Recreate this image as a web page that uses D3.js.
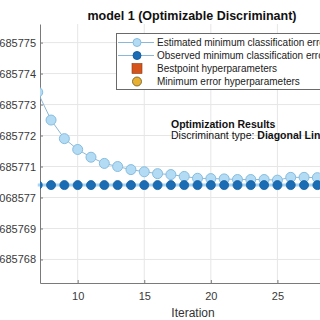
<!DOCTYPE html>
<html>
<head>
<meta charset="utf-8">
<script src="https://cdn.jsdelivr.net/npm/d3@7"></script>
<style>
  body { margin: 0; background: #fff; }
  svg { display: block; font-family: "Liberation Sans", Arial, sans-serif; }
</style>
</head>
<body>
<div id="chart"></div>
<script>
// data
const iterations = [7, 8, 9, 10, 11, 12, 13, 14, 15, 16, 17, 18, 19, 20, 21, 22, 23, 24, 25, 26, 27, 28, 29, 30];
const estimated = [0.06857734, 0.06857725, 0.06857719, 0.068577155, 0.06857713, 0.06857711, 0.0685771, 0.06857709,
  0.068577083, 0.068577077, 0.068577074, 0.068577068, 0.068577062, 0.068577061, 0.06857706, 0.068577058,
  0.068577058, 0.068577058, 0.068577056, 0.068577065, 0.068577065, 0.068577064, 0.068577064, 0.068577064];
const observed = iterations.map(() => 0.06857704);
const yTicks = [0.0685768, 0.0685769, 0.068577, 0.0685771, 0.0685772, 0.0685773, 0.0685774, 0.0685775];
const xTicks = [10, 15, 20, 25, 30];
const legendLabels = ["Estimated minimum classification error", "Observed minimum classification error",
  "Bestpoint hyperparameters", "Minimum error hyperparameters"];

const W = 320, H = 320;
const pL = 40, pT = 24, pB = 283, pR = 344;

const svg = d3.select("#chart").append("svg")
  .attr("width", W).attr("height", H);

const x = d3.scaleLinear().domain([7.17, 30]).range([pL, pR]);
const y = d3.scaleLinear().domain([0.068576724, 0.06857756]).range([pB, pT]);

// grid
const grid = svg.append("g").attr("stroke", "#e6e6e6").attr("stroke-width", 1);
grid.selectAll("line.v").data(xTicks).join("line").attr("class", "v")
  .attr("x1", d => x(d)).attr("x2", d => x(d)).attr("y1", pT).attr("y2", pB);
grid.selectAll("line.h").data(yTicks).join("line").attr("class", "h")
  .attr("x1", pL).attr("x2", pR).attr("y1", d => y(d)).attr("y2", d => y(d));

// axes
const xAxis = svg.append("g").attr("transform", `translate(0,${pB})`)
  .call(d3.axisBottom(x).tickValues(xTicks).tickSizeInner(-3).tickSizeOuter(0).tickPadding(9));
const yAxis = svg.append("g").attr("transform", `translate(${pL},0)`)
  .call(d3.axisLeft(y).tickValues(yTicks).tickSizeInner(-3).tickSizeOuter(0).tickPadding(4)
    .tickFormat(d => String(+d.toFixed(7))));
[xAxis, yAxis].forEach(a => {
  a.select(".domain").attr("stroke", "#7a7a7a");
  a.selectAll(".tick line").attr("stroke", "#7a7a7a");
  a.selectAll("text").attr("fill", "#3a3a3a").attr("font-size", 11).attr("font-family", "Liberation Sans, Arial, sans-serif");
});

// observed minimum
svg.append("path").datum(iterations)
  .attr("fill", "none").attr("stroke", "#a6d4f2").attr("stroke-width", 3)
  .attr("d", d3.line().x(d => x(d)).y((d, i) => y(observed[i])));

svg.append("clipPath").attr("id", "plotclip")
  .append("rect").attr("x", pL).attr("y", pT).attr("width", pR - pL).attr("height", pB - pT);

// estimated minimum
svg.append("path").datum(iterations)
  .attr("fill", "none").attr("stroke", "#8db7d6").attr("stroke-width", 1)
  .attr("clip-path", "url(#plotclip)")
  .attr("d", d3.line().x(d => x(d)).y((d, i) => y(estimated[i])));

const marks = svg.append("g").attr("clip-path", "url(#plotclip)");
marks.selectAll("circle.est").data(iterations).join("circle")
  .attr("class", "est")
  .attr("cx", d => x(d)).attr("cy", (d, i) => y(estimated[i])).attr("r", 5)
  .attr("fill", "#b3dcf4").attr("stroke", "#86bde0").attr("stroke-width", 1);
marks.selectAll("circle.obs").data(iterations).join("circle")
  .attr("class", "obs")
  .attr("cx", d => x(d)).attr("cy", (d, i) => y(observed[i])).attr("r", 4.5)
  .attr("fill", "#1a6cb5").attr("stroke", "#175f9f").attr("stroke-width", 0.8);

// title
svg.append("text").attr("x", 192).attr("y", 20).attr("text-anchor", "middle")
  .attr("font-size", 12.5).attr("font-weight", "bold").attr("fill", "#111")
  .text("model 1 (Optimizable Discriminant)");

// x label
svg.append("text").attr("x", 193).attr("y", 317).attr("text-anchor", "middle")
  .attr("font-size", 12).attr("fill", "#333").text("Iteration");

// annotation
svg.append("text").attr("x", 171).attr("y", 127.5)
  .attr("font-size", 10.5).attr("font-weight", "bold").attr("fill", "#111")
  .text("Optimization Results");
const ann = svg.append("text").attr("x", 171).attr("y", 138.5)
  .attr("font-size", 10.5).attr("fill", "#111");
ann.append("tspan").text("Discriminant type: ");
ann.append("tspan").attr("font-weight", "bold").text("Diagonal Linear");

// legend
const lg = svg.append("g");
lg.append("rect").attr("x", 116.5).attr("y", 33.5).attr("width", 260).attr("height", 56)
  .attr("fill", "#fff").attr("stroke", "#6a6a6a").attr("stroke-width", 1);
const rowY = [42.5, 55.5, 68.5, 81.5];
const rows = lg.selectAll("g.row").data(legendLabels).join("g")
  .attr("class", "row")
  .attr("transform", (d, i) => `translate(0,${rowY[i]})`);
rows.append("text").attr("x", 157).attr("y", 3.6).attr("font-size", 10).attr("fill", "#222").text(d => d);
rows.filter((d, i) => i < 2).append("line")
  .attr("x1", 118).attr("x2", 154).attr("y1", 0).attr("y2", 0)
  .attr("stroke", "#8db7d6").attr("stroke-width", 1);
rows.filter((d, i) => i === 0).append("circle").attr("cx", 137).attr("r", 4)
  .attr("fill", "#b3dcf4").attr("stroke", "#86bde0");
rows.filter((d, i) => i === 1).append("circle").attr("cx", 137).attr("r", 4)
  .attr("fill", "#1a6cb5").attr("stroke", "#175f9f");
rows.filter((d, i) => i === 2).append("rect").attr("x", 132).attr("y", -5).attr("width", 10).attr("height", 10)
  .attr("fill", "#d4541b").attr("stroke", "#8a3a14").attr("stroke-width", 0.6);
rows.filter((d, i) => i === 3).append("circle").attr("cx", 137).attr("r", 4.5)
  .attr("fill", "#e8b030").attr("stroke", "#6b5424").attr("stroke-width", 0.8);
</script>
</body>
</html>
